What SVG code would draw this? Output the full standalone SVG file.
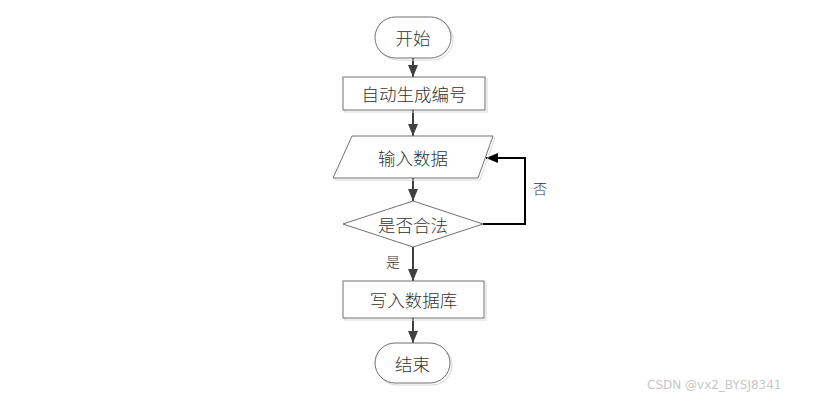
<svg xmlns="http://www.w3.org/2000/svg" width="818" height="400" viewBox="0 0 818 400">
<style>
.shape{fill:#fff;stroke:#707070;stroke-width:1}
.shadow{fill:none;stroke:#d8d8d8;stroke-width:1}
.t{font-family:"Noto Sans CJK SC","Liberation Sans",sans-serif;font-size:17.5px;font-weight:300;fill:#333;text-anchor:middle;dominant-baseline:central}
.lbl{font-family:"Noto Sans CJK SC","Liberation Sans",sans-serif;font-size:14px;font-weight:300;fill:#333;text-anchor:middle;dominant-baseline:central}
.c{stroke:#404040;stroke-width:2;fill:none}
.wm{font-family:"DejaVu Sans","Liberation Sans",sans-serif;font-size:12px;fill:#c8c8c8}
</style>
<defs>
<marker id="ah" viewBox="0 0 12 10" refX="12" refY="5" markerWidth="6" markerHeight="5" orient="auto" markerUnits="strokeWidth">
<path d="M0,0 L12,5 L0,10 z" fill="#404040"/>
</marker>
<marker id="ahb" viewBox="0 0 12 10" refX="12" refY="5" markerWidth="6" markerHeight="5" orient="auto" markerUnits="strokeWidth">
<path d="M0,0 L12,5 L0,10 z" fill="#000"/>
</marker>
</defs>
<rect width="818" height="400" fill="#fff"/>
<g id="connectors">
<line class="c" x1="413" y1="58" x2="413" y2="77" marker-end="url(#ah)"/>
<line class="c" x1="413" y1="110" x2="413" y2="136" marker-end="url(#ah)"/>
<line class="c" x1="413" y1="178" x2="413" y2="201" marker-end="url(#ah)"/>
<line class="c" x1="413" y1="247" x2="413" y2="281" marker-end="url(#ah)"/>
<line class="c" x1="413" y1="318" x2="413" y2="343" marker-end="url(#ah)"/>
<polyline stroke="#000" stroke-width="2" fill="none" points="483,224 525,224 525,158 486,158" marker-end="url(#ahb)"/>
<text class="lbl" x="540" y="188">否</text>
<text class="lbl" x="393" y="261">是</text>
</g>
<g id="start">
<rect class="shadow" x="377" y="19" width="76" height="41" rx="20.5"/>
<rect class="shape" x="375" y="17" width="76" height="41" rx="20.5"/>
<text class="t" x="413" y="37.5">开始</text>
</g>
<g id="gen">
<rect class="shadow" x="345" y="79" width="142" height="33"/>
<rect class="shape" x="343" y="77" width="142" height="33"/>
<text class="t" x="414" y="93.5">自动生成编号</text>
</g>
<g id="input">
<polygon class="shadow" points="354,138 495,138 480,180 335,180"/>
<polygon class="shape" points="352,136 493,136 478,178 333,178"/>
<text class="t" x="413" y="157">输入数据</text>
</g>
<g id="check">
<polygon class="shape" points="413,201 483,224 413,247 343,224"/>
<text class="t" x="413" y="224">是否合法</text>
</g>
<g id="write">
<rect class="shadow" x="345" y="283" width="141" height="37"/>
<rect class="shape" x="343" y="281" width="141" height="37"/>
<text class="t" x="413.5" y="299.5">写入数据库</text>
</g>
<g id="end">
<rect class="shadow" x="377" y="345" width="75" height="40" rx="20"/>
<rect class="shape" x="375" y="343" width="75" height="40" rx="20"/>
<text class="t" x="412.5" y="363">结束</text>
</g>
<text class="wm" x="647" y="389">CSDN @vx2_BYSJ8341</text>
</svg>
